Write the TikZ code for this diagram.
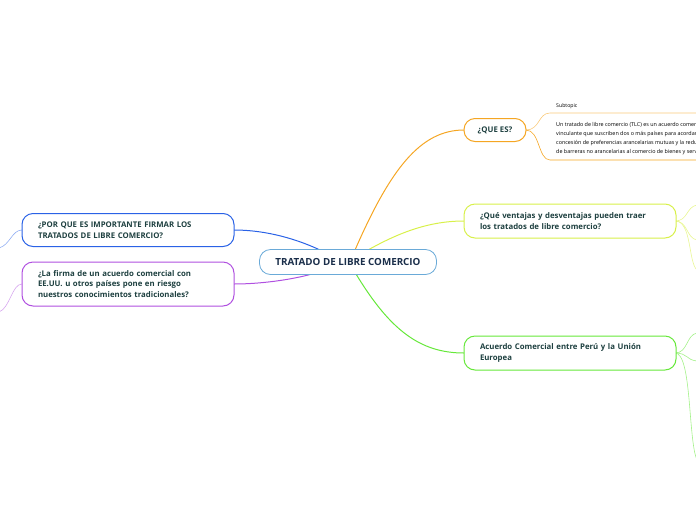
\documentclass[tikz,border=0pt]{standalone}
\usepackage{fontspec}
\setmainfont{Open Sans}
\begin{document}
\begin{tikzpicture}[x=1pt,y=-1pt,
  box/.style={draw,rounded corners=11pt,line width=1pt,fill=white,align=left,font=\bfseries\fontsize{7.8}{10.5}\selectfont,text=txt,inner xsep=16pt},
  cbox/.style={draw=cblue,rounded corners=11pt,line width=0.8pt,fill=white,font=\bfseries\fontsize{9.8}{12}\selectfont,text=ctext},
  con/.style={line width=1pt},
  sub/.style={line width=0.6pt}]
\definecolor{txt}{HTML}{1E4040}
\definecolor{ctext}{HTML}{1A2E4A}
\definecolor{cblue}{HTML}{6AAAD8}
\definecolor{orng}{HTML}{F5A623}
\definecolor{yel}{HTML}{D8F04A}
\definecolor{grn}{HTML}{66E83A}
\definecolor{blu}{HTML}{2A62E6}
\definecolor{pur}{HTML}{B050E0}
\useasboundingbox (0,0) rectangle (696,520);
\clip (0,0) rectangle (696,520);
% sub-branches
\coordinate (qr) at (526,130);
\coordinate (s1) at (550,113);
\coordinate (s2) at (550,160);
\draw[sub,orng!60] (qr) .. controls (540,130) and (538,113) .. (s1) -- (696,113);
\draw[sub,orng] (qr) .. controls (540,130) and (538,160) .. (s2) -- (696,160);
\node[anchor=west,font=\fontsize{5.2}{6}\selectfont,inner xsep=0pt] (st) at (556,106) {Subtopic};
\node[anchor=north west,align=left,font=\fontsize{5.4}{9}\selectfont,inner sep=0pt] (para) at (556,122)
 {Un tratado de libre comercio (TLC) es un acuerdo comercial\\vinculante que suscriben dos o más países para acordar la\\concesión de preferencias arancelarias mutuas y la reducción\\de barreras no arancelarias al comercio de bienes y servicios.};
\coordinate (vr) at (675,221);
\draw[sub,yel!60] (vr) .. controls (688,221) and (686,207) .. (697,205);
\draw[sub,yel!60] (vr) .. controls (688,221) and (686,238) .. (697,240);
\draw[sub,yel!60] (vr) .. controls (692,221) and (688,262) .. (697,270);
\coordinate (ar) at (675,353);
\draw[sub,grn!60] (ar) .. controls (688,353) and (686,335) .. (697,333);
\draw[sub,grn!60] (ar) .. controls (688,353) and (686,360) .. (697,361);
\draw[sub,grn!60] (ar) .. controls (692,353) and (688,440) .. (697,460);
\coordinate (bl) at (22,230);
\coordinate (pl) at (22,284);
\draw[sub,blu!50] (bl) .. controls (12,230) and (10,245) .. (-1,248);
\draw[sub,pur!50] (pl) .. controls (12,284) and (10,308) .. (-1,312);
% main connectors
\draw[con,orng] (355,250) .. controls (390,170) and (420,130) .. (464,130);
\draw[con,yel] (368,250) .. controls (400,232) and (430,221) .. (464,221);
\draw[con,grn] (356,274) .. controls (390,330) and (420,353) .. (464,353);
\draw[con,blu] (320,250) .. controls (290,236) and (260,230) .. (234,230);
\draw[con,pur] (312,274) .. controls (290,280) and (260,284) .. (234,284);
% nodes
\node[cbox,minimum width=177pt,minimum height=25pt] (c) at (348,262) {TRATADO DE LIBRE COMERCIO};
\node[box,draw=orng,minimum width=62pt,minimum height=23pt,inner xsep=4pt,align=center] (q) at (495,130) {¿QUE ES?};
\node[box,draw=yel,text width=180pt,minimum height=34pt] (v) at (570,221) {¿Qué ventajas y desventajas pueden traer\\los tratados de libre comercio?};
\node[box,draw=grn,text width=180pt,minimum height=34pt] (a) at (570,353) {Acuerdo Comercial entre Perú y la Unión\\Europea};
\node[box,draw=blu,text width=180pt,minimum height=33pt] (b) at (128,230) {¿POR QUE ES IMPORTANTE FIRMAR LOS\\TRATADOS DE LIBRE COMERCIO?};
\node[box,draw=pur,text width=180pt,minimum height=44pt] (p) at (128,284) {¿La firma de un acuerdo comercial con\\EE.UU. u otros países pone en riesgo\\nuestros conocimientos tradicionales?};
\end{tikzpicture}
\end{document}
